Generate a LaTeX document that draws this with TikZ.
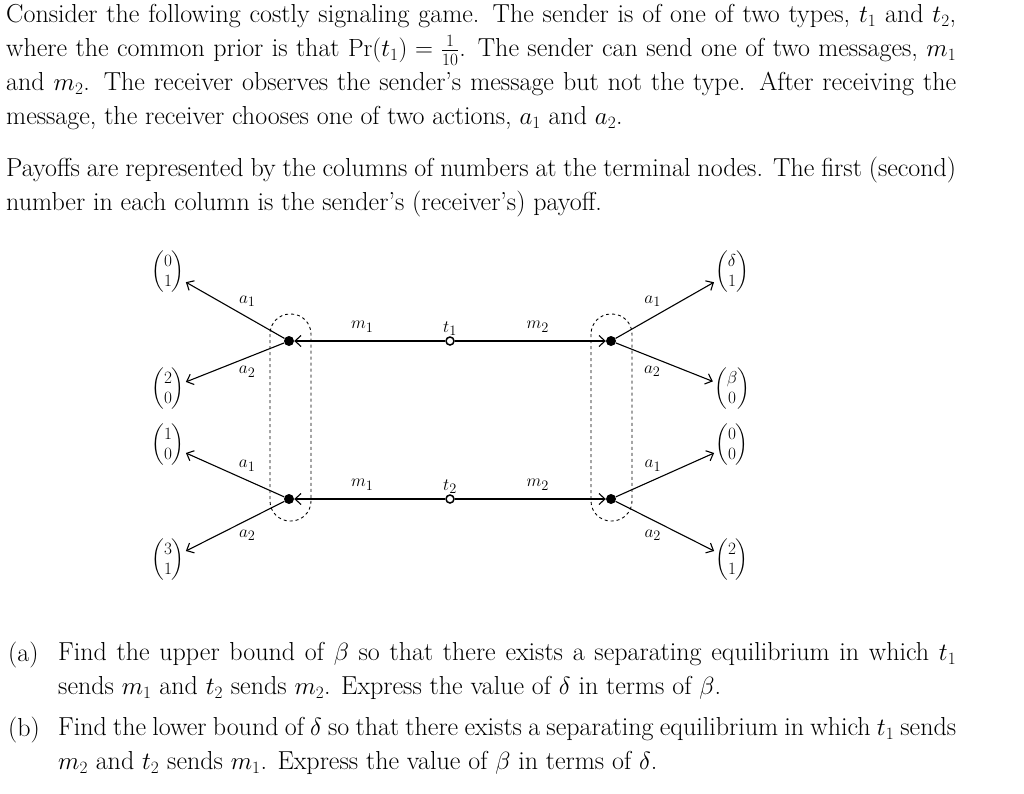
\documentclass[tikz,border=0pt]{standalone}
\usepackage{amsmath}
\usetikzlibrary{arrows.meta,positioning}
\begin{document}
\begin{tikzpicture}[x=1pt,y=-1pt,
  body/.style={anchor=north west,inner sep=0pt,align=justify,font=\fontsize{26}{34}\selectfont},
  dec/.style={circle,fill=black,inner sep=0pt,minimum size=10pt},
  chance/.style={circle,draw,line width=1.5pt,fill=white,inner sep=0pt,minimum size=8pt},
  pay/.style={inner sep=1pt,font=\fontsize{17}{20}\selectfont},
  lab/.style={font=\fontsize{19}{21}\selectfont},
  edge/.style={-{Straight Barb[length=6pt,width=11pt]},line width=1.1pt},
  info/.style={dashed,line width=0.9pt,rounded corners=20pt}]
\useasboundingbox (0,0) rectangle (1024,793);
\node[body,text width=950] at (6,4) {Consider the following costly signaling game. The sender is of one of two types, $t_1$ and $t_2$, where the common prior is that $\Pr(t_1)=\frac{1}{10}$. The sender can send one of two messages, $m_1$ and $m_2$. The receiver observes the sender's message but not the type. After receiving the message, the receiver chooses one of two actions, $a_1$ and $a_2$.};
\node[body,text width=950] at (6,157) {Payoffs are represented by the columns of numbers at the terminal nodes. The first (second) number in each column is the sender's (receiver's) payoff.};
\node[body] at (8,642) {(a)};
\node[body,text width=898] at (58,642) {Find the upper bound of $\beta$ so that there exists a separating equilibrium in which $t_1$ sends $m_1$ and $t_2$ sends $m_2$. Express the value of $\delta$ in terms of $\beta$.};
\node[body] at (8,717) {(b)};
\node[body,text width=898] at (58,717) {Find the lower bound of $\delta$ so that there exists a separating equilibrium in which $t_1$ sends $m_2$ and $t_2$ sends $m_1$. Express the value of $\beta$ in terms of $\delta$.};
% info sets
\draw[info] (270,314) rectangle (311,521);
\draw[info] (591,314) rectangle (632,521);
% nodes
\node[chance] (t1) at (450,341) {};
\node[chance] (t2) at (450,499) {};
\node[dec] (L1) at (289,341) {};
\node[dec] (L2) at (289,499) {};
\node[dec] (R1) at (611,341) {};
\node[dec] (R2) at (611,499) {};
\node[lab,above=2pt] at (t1) {$t_1$};
\node[lab,above=2pt] at (t2) {$t_2$};
\draw[edge] (t1) -- node[lab,above=5pt,pos=0.55] {$m_1$} (L1);
\draw[edge] (t1) -- node[lab,above=5pt,pos=0.55] {$m_2$} (R1);
\draw[edge] (t2) -- node[lab,above=5pt,pos=0.55] {$m_1$} (L2);
\draw[edge] (t2) -- node[lab,above=5pt,pos=0.55] {$m_2$} (R2);
% payoffs
\node[pay] (p1) at (168,272) {$\begin{pmatrix}0\\1\end{pmatrix}$};
\node[pay] (p2) at (168,389) {$\begin{pmatrix}2\\0\end{pmatrix}$};
\node[pay] (p3) at (168,445) {$\begin{pmatrix}1\\0\end{pmatrix}$};
\node[pay] (p4) at (168,560) {$\begin{pmatrix}3\\1\end{pmatrix}$};
\node[pay] (q1) at (732,272) {$\begin{pmatrix}\delta\\1\end{pmatrix}$};
\node[pay] (q2) at (732,389) {$\begin{pmatrix}\beta\\0\end{pmatrix}$};
\node[pay] (q3) at (732,445) {$\begin{pmatrix}0\\0\end{pmatrix}$};
\node[pay] (q4) at (732,560) {$\begin{pmatrix}2\\1\end{pmatrix}$};
\draw[edge] (L1) -- node[lab,pos=0.5,anchor=south west] {$a_1$} (p1);
\draw[edge] (L1) -- node[lab,pos=0.5,anchor=north west] {$a_2$} (p2);
\draw[edge] (L2) -- node[lab,pos=0.5,anchor=south west] {$a_1$} (p3);
\draw[edge] (L2) -- node[lab,pos=0.5,anchor=north west] {$a_2$} (p4);
\draw[edge] (R1) -- node[lab,pos=0.5,anchor=south east] {$a_1$} (q1);
\draw[edge] (R1) -- node[lab,pos=0.5,anchor=north east] {$a_2$} (q2);
\draw[edge] (R2) -- node[lab,pos=0.5,anchor=south east] {$a_1$} (q3);
\draw[edge] (R2) -- node[lab,pos=0.5,anchor=north east] {$a_2$} (q4);
\end{tikzpicture}
\end{document}
